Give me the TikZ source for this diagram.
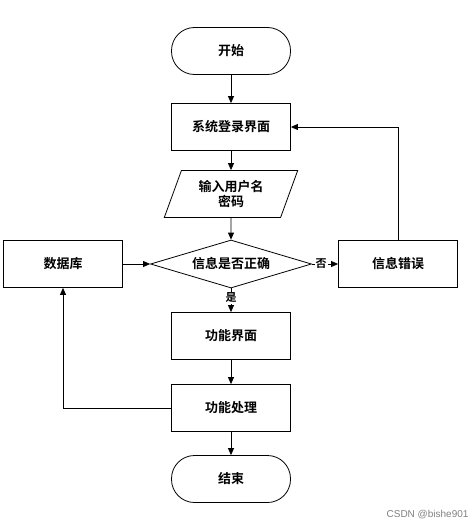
\documentclass[tikz,border=0pt]{standalone}
\usepackage{fontspec}
\newfontfamily\cjk{Noto Sans CJK SC}[BoldFont={Noto Sans CJK SC Bold}]
\usetikzlibrary{shapes.geometric,arrows.meta}
\begin{document}
\begin{tikzpicture}[x=1pt,y=-1pt,
  box/.style={draw,thick,minimum width=119pt,minimum height=47pt,font=\cjk\bfseries\fontsize{13}{15}\selectfont,align=center},
  term/.style={box,rounded corners=23pt},
  ar/.style={-{Triangle[length=7pt,width=6pt]},thick},
  lab/.style={font=\cjk\bfseries\fontsize{11}{13}\selectfont,inner sep=1pt}]
\useasboundingbox (0,0) rectangle (474,530);
\node[term] (s) at (231,51) {开始};
\node[box] (l) at (231,127) {系统登录界面};
\node[box,trapezium,trapezium left angle=70,trapezium right angle=110,minimum width=130pt,minimum height=47pt] (i) at (231,194) {输入用户名\\密码};
\node[box,diamond,aspect=3.4,minimum width=161pt,minimum height=48pt,inner sep=0pt] (d) at (231,264) {信息是否正确};
\node[box] (db) at (63,264) {数据库};
\node[box] (e) at (398,264) {信息错误};
\node[box] (f) at (231,336) {功能界面};
\node[box] (p) at (231,408) {功能处理};
\node[term] (t) at (231,479) {结束};
\draw[ar] (s) -- (l);
\draw[ar] (l) -- (i);
\draw[ar] (i) -- (d);
\draw[ar] (d) -- node[lab,fill=white,pos=0.4]{是} (f);
\draw[ar] (d) -- node[lab,fill=white,pos=0.35]{否} (e);
\draw[ar] (e.north) |- (l.east);
\draw[ar] (db) -- (d);
\draw[ar] (f) -- (p);
\draw[ar] (p) -- (t);
\draw[ar] (p.west) -| (db.south);
\node[font=\fontspec{Liberation Sans}\fontsize{10}{12}\selectfont,text=gray,anchor=east] (w) at (472,515) {CSDN @bishe901};
\end{tikzpicture}
\end{document}
